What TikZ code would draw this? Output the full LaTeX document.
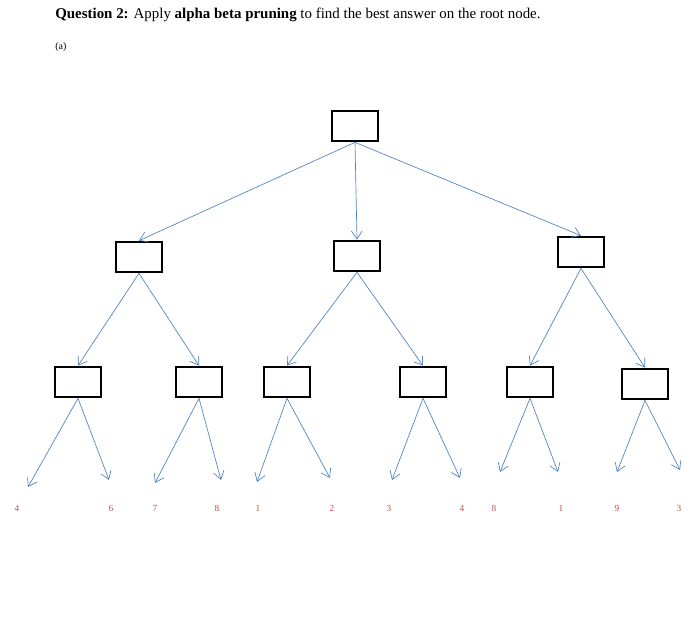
\documentclass[tikz,border=0pt]{standalone}
\usepackage{fontspec}
\setmainfont{Liberation Serif}
\usetikzlibrary{arrows.meta}
\definecolor{edge}{RGB}{79,129,189}
\definecolor{leafc}{RGB}{192,80,77}
\begin{document}
\begin{tikzpicture}[x=0.75pt,y=-0.75pt,
  box/.style={draw,line width=1.5pt,minimum width=34pt,minimum height=23pt,inner sep=0pt},
  conn/.style={draw=edge,line width=0.5pt,-{Straight Barb[length=6pt,width=8pt]}},
  leaf/.style={text=leafc,font=\fontsize{7}{8}\selectfont,inner sep=0pt}]
\useasboundingbox (0,0) rectangle (700,627);
\node[anchor=west,font=\fontsize{11.2}{13}\selectfont,inner sep=0pt] (title) at (55,15) {\textbf{Question 2:} Apply \textbf{alpha beta pruning} to find the best answer on the root node.};
\node[anchor=west,font=\fontsize{7.5}{9}\selectfont,inner sep=0pt] (a) at (55,47) {(a)};
\node[box] (r) at (355,126) {};
\node[box] (n1) at (139,257) {};
\node[box] (n2) at (357,256) {};
\node[box] (n3) at (581,252) {};
\node[box] (m1) at (78,382) {};
\node[box] (m2) at (199,382) {};
\node[box] (m3) at (287,382) {};
\node[box] (m4) at (423,382) {};
\node[box] (m5) at (530,382) {};
\node[box] (m6) at (645,384) {};
\foreach \n in {n1,n2,n3} \draw[conn] (r.south) -- (\n.north);
\draw[conn] (n1.south) -- (m1.north);
\draw[conn] (n1.south) -- (m2.north);
\draw[conn] (n2.south) -- (m3.north);
\draw[conn] (n2.south) -- (m4.north);
\draw[conn] (n3.south) -- (m5.north);
\draw[conn] (n3.south) -- (m6.north);
\foreach \i/\m/\x/\y in {1/m1/28/487,2/m1/109/480,3/m2/155/483,4/m2/221/480,5/m3/257/482,6/m3/330/478,7/m4/392/480,8/m4/460/478,9/m5/500/472,10/m5/558/472,11/m6/617/472,12/m6/680/470}{
  \coordinate (t\i) at (\x,\y);
  \draw[conn] (\m.south) -- (t\i);
}
\foreach \i/\x/\v in {1/17/4,2/111/6,3/155/7,4/217/8,5/258/1,6/332/2,7/389/3,8/462/4,9/494/8,10/561/1,11/617/9,12/679/3}
  \node[leaf] (l\i) at (\x,508) {\v};
\end{tikzpicture}
\end{document}
